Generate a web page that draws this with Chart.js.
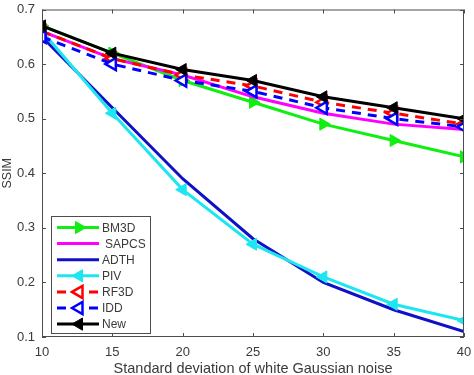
<!DOCTYPE html>
<html>
<head>
<meta charset="utf-8">
<script src="https://cdn.jsdelivr.net/npm/chart.js@4/dist/chart.umd.min.js"></script>
<style>
  html, body { margin: 0; padding: 0; background: #fff; }
  #wrap { width: 474px; height: 375px; }
</style>
</head>
<body>
<div id="wrap"><canvas id="ssimChart" width="474" height="375"></canvas></div>
<script>
// Values
const noiseLevels = [10, 15, 20, 25, 30, 35, 40];
const bm3dSsim  = [0.67, 0.62, 0.57, 0.53, 0.49, 0.46, 0.43];
const sapcsSsim = [0.66, 0.61, 0.58, 0.54, 0.51, 0.49, 0.48];
const adthSsim  = [0.65, 0.52, 0.39, 0.28, 0.20, 0.15, 0.11];
const pivSsim   = [0.66, 0.51, 0.37, 0.27, 0.21, 0.16, 0.13];
const rf3dSsim  = [0.66, 0.61, 0.58, 0.56, 0.53, 0.51, 0.49];
const iddSsim   = [0.65, 0.60, 0.57, 0.55, 0.52, 0.50, 0.485];
const newSsim   = [0.67, 0.62, 0.59, 0.57, 0.54, 0.52, 0.50];
const yTicks = [0.1, 0.2, 0.3, 0.4, 0.5, 0.6, 0.7];

const axisColor = '#4d4d4d';
const textColor = '#3a3a3a';
const fontFamily = '"Liberation Sans", Arial, sans-serif';

function toPoints(values) {
    return noiseLevels.map((x, i) => ({ x: x, y: values[i] }));
}

// marker: null | 'right' | 'left'; open = white fill
function makeSeries(label, values, color, marker, open, dash, order) {
    return {
        label: label,
        data: toPoints(values),
        borderColor: color,
        backgroundColor: open ? '#ffffff' : color,
        borderWidth: 3,
        borderDash: dash || [],
        pointStyle: marker ? 'triangle' : false,
        rotation: marker === 'right' ? 90 : -90,
        pointRadius: marker ? 7 : 0,
        pointBorderWidth: open ? 2.5 : 1,
        pointBorderColor: color,
        pointBackgroundColor: open ? '#ffffff' : color,
        fill: false,
        tension: 0,
        order: order,
        _marker: marker,
        _open: open
    };
}

const datasets = [
    makeSeries('BM3D', bm3dSsim, '#11ee11', 'right', false, null, 7),
    makeSeries('SAPCS', sapcsSsim, '#ff00ff', null, false, null, 6),
    makeSeries('ADTH', adthSsim, '#1010c8', null, false, null, 5),
    makeSeries('PIV', pivSsim, '#1ee6f0', 'left', false, null, 4),
    makeSeries('RF3D', rf3dSsim, '#ff0000', 'left', true, [9, 7], 3),
    makeSeries('IDD', iddSsim, '#0000ff', 'left', true, [9, 7], 2),
    makeSeries('New', newSsim, '#000000', 'left', false, null, 1)
];

function drawTriangle(ctx, x, y, r, dir, fill, stroke, lw) {
    ctx.save();
    ctx.translate(x, y);
    ctx.rotate((dir === 'right' ? 90 : -90) * Math.PI / 180);
    ctx.beginPath();
    ctx.moveTo(0, -r);
    ctx.lineTo(r * 0.87, r * 0.5);
    ctx.lineTo(-r * 0.87, r * 0.5);
    ctx.closePath();
    ctx.fillStyle = fill;
    ctx.fill();
    ctx.lineWidth = lw;
    ctx.strokeStyle = stroke;
    ctx.setLineDash([]);
    ctx.stroke();
    ctx.restore();
}

// MATLAB-style box with inward ticks
const boxPlugin = {
    id: 'boxPlugin',
    afterDatasetsDraw(chart) {
        const { ctx, chartArea: a, scales } = chart;
        ctx.save();
        ctx.strokeStyle = axisColor;
        ctx.lineWidth = 1;
        ctx.setLineDash([]);
        ctx.strokeRect(a.left + 0.5, a.top + 0.5, a.right - a.left - 1, a.bottom - a.top - 1);
        ctx.beginPath();
        scales.x.ticks.forEach(t => {
            const px = Math.round(scales.x.getPixelForValue(t.value)) + 0.5;
            ctx.moveTo(px, a.bottom); ctx.lineTo(px, a.bottom - 4);
            ctx.moveTo(px, a.top); ctx.lineTo(px, a.top + 4);
        });
        scales.y.ticks.forEach(t => {
            const py = Math.round(scales.y.getPixelForValue(t.value)) + 0.5;
            ctx.moveTo(a.left, py); ctx.lineTo(a.left + 4, py);
            ctx.moveTo(a.right, py); ctx.lineTo(a.right - 4, py);
        });
        ctx.stroke();
        ctx.restore();
    }
};

// legend box in lower left of the plot
const legendPlugin = {
    id: 'legendBox',
    afterDraw(chart) {
        const ctx = chart.ctx;
        const left = 51, top = 216, width = 99, height = 117;
        const rowH = 16.1, firstY = 227.5;
        ctx.save();
        ctx.fillStyle = '#ffffff';
        ctx.fillRect(left, top, width, height);
        ctx.strokeStyle = axisColor;
        ctx.lineWidth = 1;
        ctx.strokeRect(left + 0.5, top + 0.5, width, height);
        ctx.font = '12px ' + fontFamily;
        ctx.textBaseline = 'middle';
        chart.data.datasets.forEach((ds, i) => {
            const y = firstY + i * rowH;
            ctx.beginPath();
            ctx.strokeStyle = ds.borderColor;
            ctx.lineWidth = 3;
            ctx.setLineDash(ds.borderDash);
            ctx.moveTo(57, y);
            ctx.lineTo(99, y);
            ctx.stroke();
            if (ds._marker) {
                drawTriangle(ctx, 79, y, 7, ds._marker, ds._open ? '#ffffff' : ds.borderColor,
                    ds.borderColor, ds._open ? 2.5 : 1);
            }
            ctx.fillStyle = textColor;
            ctx.fillText(ds.label, ds.label === 'SAPCS' ? 105 : 102, y + 1);
        });
        ctx.restore();
    }
};

new Chart(document.getElementById('ssimChart'), {
    type: 'line',
    data: { datasets: datasets },
    options: {
        responsive: false,
        animation: false,
        layout: { padding: { top: 4, right: 10, bottom: 0, left: 0 } },
        plugins: {
            legend: { display: false },
            tooltip: { enabled: false }
        },
        scales: {
            x: {
                type: 'linear',
                min: 10,
                max: 40,
                grid: { display: false, drawTicks: false },
                border: { display: false },
                ticks: {
                    stepSize: 5,
                    padding: 8,
                    color: textColor,
                    font: { family: fontFamily, size: 13 },
                    maxRotation: 0
                },
                title: {
                    display: true,
                    text: 'Standard deviation of white Gaussian noise',
                    color: textColor,
                    font: { family: fontFamily, size: 14.5, lineHeight: 0.8 },
                    padding: { top: 0, bottom: 0 }
                },
                afterFit: s => {
                    s.height = 38;
                    s.paddingLeft = 0;
                    s.paddingRight = 0;
                }
            },
            y: {
                min: 0.1,
                max: 0.7,
                grid: { display: false, drawTicks: false },
                border: { display: false },
                afterBuildTicks: s => { s.ticks = yTicks.map(v => ({ value: v })); },
                ticks: {
                    padding: 7,
                    color: textColor,
                    font: { family: fontFamily, size: 13 },
                    callback: v => v.toFixed(1)
                },
                title: {
                    display: true,
                    text: 'SSIM',
                    color: textColor,
                    font: { family: fontFamily, size: 12.5, lineHeight: 1.2 },
                    padding: { top: 0, bottom: 0 }
                },
                afterFit: s => {
                    s.width = 42;
                    s.paddingTop = 0;
                    s.paddingBottom = 0;
                }
            }
        }
    },
    plugins: [boxPlugin, legendPlugin]
});
</script>
</body>
</html>
